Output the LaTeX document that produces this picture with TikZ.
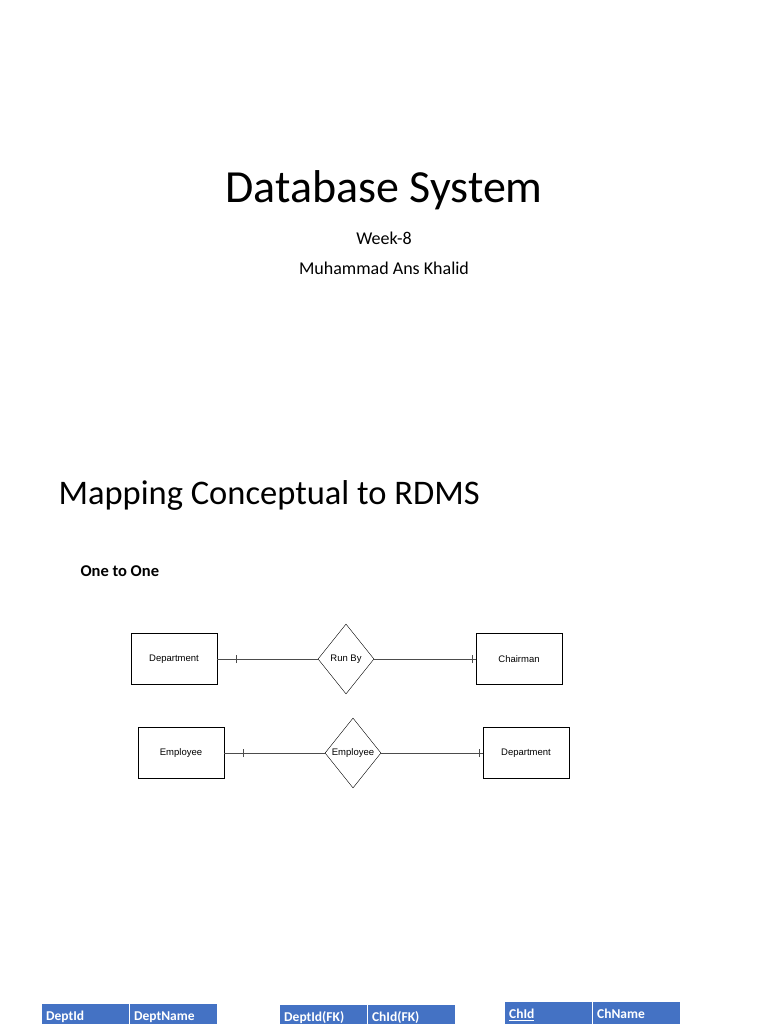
\documentclass[tikz,border=0pt]{standalone}
\usepackage{fontspec}
\setmainfont{Carlito}
\newfontfamily\erfont{Liberation Sans}
\usetikzlibrary{shapes.geometric,positioning}
\definecolor{hdrblue}{HTML}{4472C4}
\begin{document}
\begin{tikzpicture}[x=1pt,y=1pt, entity/.style = {shape=rectangle, draw, minimum width=86pt, minimum height=51pt, font=\erfont\fontsize{9.5}{11}\selectfont}, relation/.style = {shape=diamond, draw, minimum width=56pt, minimum height=70pt, inner sep=0pt, font=\erfont\fontsize{9.5}{11}\selectfont}, hdr/.style = {shape=rectangle, fill=hdrblue, text=white, minimum width=87pt, minimum height=24pt, anchor=north west, inner xsep=4pt, inner ysep=3pt, align=left, text width=79pt, text height=11pt, text depth=3pt, font=\bfseries\fontsize{13.5}{15}\selectfont}, link/.style = {draw=black!70, line width=0.6pt}]
\useasboundingbox (0,0) rectangle (768,-1024);
\node at (384,-190) {\fontsize{46}{52}\selectfont Database System};
\node at (384,-238) {\fontsize{18}{22}\selectfont Week-8};
\node at (384,-268) {\fontsize{18}{22}\selectfont Muhammad Ans Khalid};
\node[anchor=west] at (55,-495) {\fontsize{34.5}{40}\selectfont Mapping Conceptual to RDMS};
\node[anchor=west] at (77,-571) {\bfseries\fontsize{16.5}{20}\selectfont One to One};
% first relationship
\node[entity] (dept) at (174,-659) {Department};
\node[relation] (runby) at (346,-659) {Run By};
\node[entity] (chair) at (519,-659) {Chairman};
\draw[link] (dept) -- (runby);
\draw[link] (runby) -- (chair);
\draw[link] ([xshift=19pt]dept.east) ++(0,-4) -- ++(0,8);
\draw[link] ([xshift=-4pt]chair.west) ++(0,-4) -- ++(0,8);
% second relationship
\node[entity] (emp) at (181,-753) {Employee};
\node[relation] (works) at (353,-753) {Employee};
\node[entity] (dept2) at (526,-753) {Department};
\draw[link] (emp) -- (works);
\draw[link] (works) -- (dept2);
\draw[link] ([xshift=19pt]emp.east) ++(0,-4) -- ++(0,8);
\draw[link] ([xshift=-4pt]dept2.west) ++(0,-4) -- ++(0,8);
% tables
\node[hdr] (t1a) at (42,-1004) {\underline{DeptId}};
\node[hdr, right=0pt of t1a, xshift=0.5pt] (t1b) {DeptName};
\node[hdr] (t2a) at (280,-1005) {DeptId(FK)};
\node[hdr, right=0pt of t2a, xshift=0.5pt] (t2b) {ChId(FK)};
\node[hdr] (t3a) at (505,-1002) {\underline{ChId}};
\node[hdr, right=0pt of t3a, xshift=0.5pt] (t3b) {ChName};
\end{tikzpicture}
\end{document}
